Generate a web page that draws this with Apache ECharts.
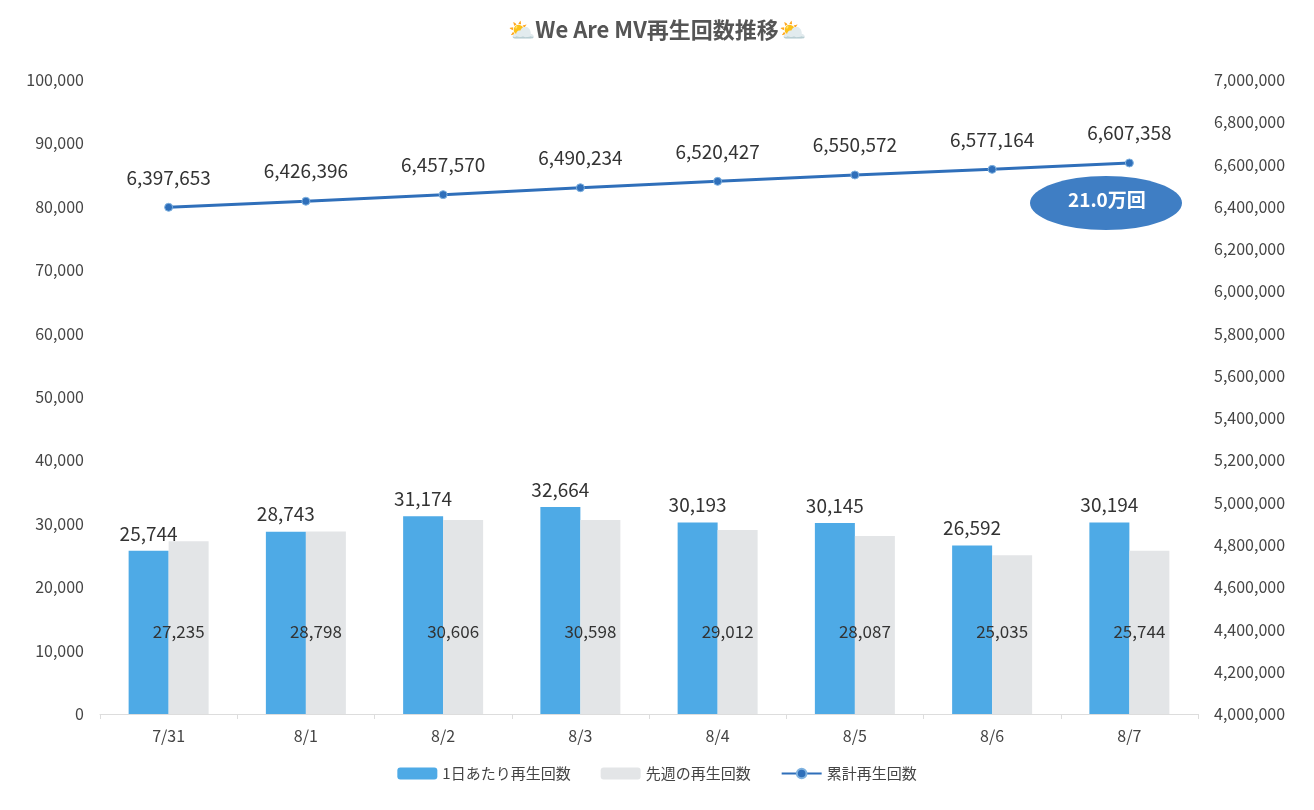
<!DOCTYPE html>
<html>
<head>
<meta charset="utf-8">
<script src="https://cdn.jsdelivr.net/npm/echarts@6/dist/echarts.min.js"></script>
<style>html,body{margin:0;background:#fff}#main{width:1314px;height:810px}</style>
</head>
<body>
<div id="main"></div>
<script>
var days = ['7/31', '8/1', '8/2', '8/3', '8/4', '8/5', '8/6', '8/7'];
var daily = [25744, 28743, 31174, 32664, 30193, 30145, 26592, 30194];
var lastWeek = [27235, 28798, 30606, 30598, 29012, 28087, 25035, 25744];
var total = [6397653, 6426396, 6457570, 6490234, 6520427, 6550572, 6577164, 6607358];

var font = '"Noto Sans CJK JP", "Open Sans", sans-serif';
var myChart = echarts.init(document.getElementById('main'));
var option = {
  textStyle: { fontFamily: font },
  title: {
    text: '⛅We Are MV再生回数推移⛅',
    left: 'center', top: 14,
    textStyle: { fontSize: 22, fontWeight: 'bold', color: '#555', fontFamily: font }
  },
  legend: {
    bottom: 24, itemGap: 30, itemWidth: 40, itemHeight: 12,
    textStyle: { fontSize: 15, color: '#444' },
    data: ['1日あたり再生回数', '先週の再生回数', '累計再生回数']
  },
  grid: { left: 100, right: 116, top: 80, bottom: 96 },
  xAxis: {
    type: 'category', data: days,
    axisLine: { lineStyle: { color: '#ddd' } },
    axisTick: { show: true, lineStyle: { color: '#ddd' } },
    axisLabel: { fontSize: 16, color: '#444', margin: 14 }
  },
  yAxis: [
    {
      type: 'value', min: 0, max: 100000, interval: 10000,
      splitLine: { show: false },
      axisLabel: { fontSize: 16, color: '#444', margin: 16, formatter: function (v) { return v.toLocaleString('en-US'); } }
    },
    {
      type: 'value', min: 4000000, max: 7000000, interval: 200000,
      splitLine: { show: false },
      axisLabel: { fontSize: 16, color: '#444', margin: 16, formatter: function (v) { return v.toLocaleString('en-US'); } }
    }
  ],
  series: [
    {
      name: '1日あたり再生回数', type: 'bar', data: daily,
      barWidth: 40, barGap: '0%',
      itemStyle: { color: '#4eaae6' },
      label: { show: true, position: 'top', distance: 8, fontSize: 19, color: '#333',
        formatter: function (p) { return p.value.toLocaleString('en-US'); } }
    },
    {
      name: '先週の再生回数', type: 'bar', data: lastWeek,
      barWidth: 40,
      itemStyle: { color: '#e3e5e7' },
      label: { show: true, position: 'insideBottom', distance: 74, offset: [-10, 0], fontSize: 17, color: '#333',
        formatter: function (p) { return p.value.toLocaleString('en-US'); } }
    },
    {
      name: '累計再生回数', type: 'line', yAxisIndex: 1, data: total,
      symbol: 'circle', symbolSize: 8,
      lineStyle: { color: '#2f6fba', width: 3 },
      itemStyle: { color: '#2f6fba', borderColor: '#7fb2e0', borderWidth: 1 },
      label: { show: true, position: 'top', distance: 16, fontSize: 19, color: '#333',
        formatter: function (p) { return p.value.toLocaleString('en-US'); } }
    }
  ],
  graphic: [
    {
      type: 'ellipse', shape: { cx: 1106, cy: 203, rx: 76, ry: 27 },
      style: { fill: '#3f7ec4' }
    },
    {
      type: 'text', left: 1068, top: 190,
      style: { text: '21.0万回', fill: '#fff', font: 'bold 19px ' + font }
    }
  ]
};
myChart.setOption(option);
</script>
</body>
</html>
